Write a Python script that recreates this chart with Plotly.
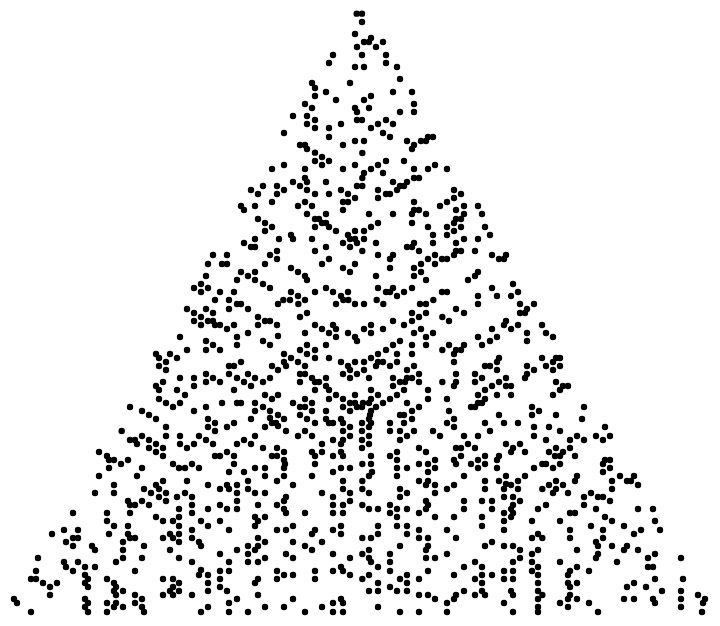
import plotly.graph_objects as go

# Values, region by region. Each pair is (across, down) in thirds of a unit
# from the region's corner, as read from the magnified crops.
apex = [(380,41),(396,41),(396,66),(375,102),(402,126),(417,126),(423,114),(459,126),(381,141),(438,141),(309,165),(396,165),(468,165),(297,189),(468,189),(375,201),(402,201),(501,201),(510,237),(246,249),(360,249),(255,264),(288,276),(489,276),(546,276),(255,288),(423,288),(318,300),(402,300),(225,312),(552,312),(246,324),(375,324),(417,324),(381,336),(510,336),(552,336),(189,348),(231,348),(255,360),(381,360),(396,360),(468,360),(231,372),(333,372),(444,372),(489,372),(255,384),(297,384),(423,384),(162,399),(459,399),(297,411),(480,411),(375,423),(402,423),(531,423),(573,423),(588,423),(594,411),(609,411),(210,435),(225,435),(339,435),(552,435),(231,447),(546,447)]
upper_left = [(405,8),(426,21),(405,33),(447,33),(426,45),(312,45),(276,57),(375,57),(489,57),(525,45),(339,96),(375,84),(381,96),(438,96),(249,108),(291,108),(360,108),(531,108),(213,120),(312,120),(381,120),(483,120),(234,132),(291,132),(405,132),(447,132),(504,132),(525,144),(276,156),(375,156),(489,156),(504,156),(183,168),(225,168),(354,168),(396,168),(192,180),(489,180),(381,192),(438,192),(234,207),(405,207),(417,207),(255,219),(426,219),(438,219),(276,231),(405,231),(447,231),(255,243),(468,243),(525,243),(333,255),(504,255),(225,267),(297,267),(339,267),(396,267),(510,267),(525,267),(192,279),(489,279),(531,279),(213,291),(225,291),(438,291),(510,291),(291,303),(405,303),(99,315),(141,315),(270,315),(291,327),(447,327),(84,342),(126,342),(141,342),(255,342),(426,342),(525,342),(333,354),(489,354),(183,366),(225,366),(354,366),(510,366),(78,378),(204,378),(375,378),(171,390),(225,390),(381,390),(63,402),(249,402),(42,414),(84,414),(270,414),(438,414),(63,426),(120,426),(162,426),(333,426),(405,426),(459,426),(504,426),(354,438),(483,438)]
upper_right = [(7,9),(78,33),(132,33),(54,45),(33,57),(162,57),(204,57),(225,45),(261,57),(12,69),(69,69),(7,84),(162,84),(177,84),(99,96),(141,96),(7,108),(120,108),(132,108),(111,120),(54,120),(282,120),(78,132),(90,132),(303,132),(54,144),(282,144),(162,156),(261,156),(240,168),(312,168),(354,168),(162,180),(177,180),(288,180),(27,192),(99,192),(156,192),(198,192),(312,192),(366,192),(288,207),(303,207),(54,219),(156,219),(282,219),(33,231),(204,231),(261,231),(303,231),(375,231),(12,243),(282,243),(219,255),(261,255),(390,255),(12,267),(312,267),(354,267),(48,279),(162,279),(219,279),(288,279),(141,291),(156,291),(7,303),(177,303),(288,303),(303,303),(345,303),(282,315),(54,315),(99,315),(225,315),(396,315),(438,315),(90,327),(204,327),(246,327),(261,327),(417,327),(432,327),(183,342),(225,342),(90,354),(162,354),(183,366),(354,366),(48,378),(162,378),(345,378),(198,390),(324,390),(459,402),(54,414),(99,414),(156,414),(396,414),(78,426),(90,426),(132,426),(246,426),(261,426),(474,426),(111,438),(354,438),(411,438),(453,438)]
middle_left = [(285,0),(327,0),(351,12),(363,12),(474,12),(201,27),(258,27),(327,27),(384,27),(222,39),(279,39),(243,51),(414,51),(222,63),(264,63),(279,63),(435,63),(450,63),(243,75),(285,75),(300,75),(342,75),(414,75),(471,75),(321,87),(384,99),(180,111),(351,111),(474,108),(258,123),(429,123),(279,135),(351,135),(450,135),(201,150),(258,150),(300,150),(108,162),(150,162),(117,174),(171,174),(138,186),(363,186),(117,198),(327,198),(342,198),(456,198),(138,210),(474,210),(258,222),(327,222),(384,222),(180,234),(222,234),(279,234),(351,234),(405,234),(450,234),(129,246),(258,246),(300,246),(372,246),(429,246),(108,258),(222,258),(393,258),(117,270),(171,270),(342,270),(195,285),(435,285),(474,285),(117,297),(456,297),(138,309),(180,309),(306,309),(351,309),(363,309),(405,309),(159,321),(30,321),(258,321),(429,321),(222,333),(66,333),(405,333),(450,333),(87,345),(474,345),(108,357),(264,357),(393,357),(450,354),(285,369),(342,369),(456,369),(468,369),(138,381),(264,381),(321,381),(435,381),(474,378),(285,393),(5,393),(138,408),(66,408),(180,408),(237,408),(405,408),(30,420),(45,420),(87,420),(258,420),(372,420),(51,432),(108,432),(180,432),(222,432),(279,432),(351,432),(393,432),(87,444),(129,444),(201,444),(429,444),(471,444)]
middle_centre = [(10,0),(30,0),(75,0),(190,0),(205,0),(290,0),(460,0),(55,12),(168,12),(225,12),(252,12),(310,12),(420,12),(438,12),(396,39),(81,39),(438,39),(60,51),(417,51),(339,63),(396,63),(105,75),(159,75),(273,75),(372,75),(126,87),(168,87),(252,87),(309,87),(423,87),(75,99),(147,99),(204,99),(273,99),(402,99),(459,99),(168,111),(225,111),(231,123),(360,123),(438,111),(339,135),(81,135),(138,135),(396,135),(438,135),(60,150),(105,150),(318,150),(12,162),(81,162),(294,162),(351,162),(396,162),(33,174),(105,174),(147,174),(273,174),(183,186),(225,186),(252,186),(12,186),(54,186),(294,186),(309,186),(351,186),(18,198),(75,198),(204,198),(288,198),(330,198),(402,198),(210,210),(252,210),(381,210),(60,222),(75,222),(189,222),(231,222),(417,222),(96,234),(138,234),(210,234),(267,234),(339,234),(381,234),(396,234),(60,246),(105,246),(117,246),(360,246),(375,246),(417,246),(138,258),(339,258),(105,270),(147,270),(273,270),(372,270),(444,270),(168,285),(225,285),(294,285),(351,285),(75,297),(147,297),(189,297),(273,297),(330,297),(444,297),(39,309),(96,309),(210,309),(225,309),(249,309),(267,309),(309,309),(381,309),(60,321),(75,321),(189,321),(231,321),(246,321),(288,321),(417,321),(96,333),(138,333),(210,333),(273,333),(396,333),(60,345),(270,345),(360,345),(372,345),(12,357),(81,357),(138,357),(183,357),(267,357),(396,357),(147,369),(159,369),(189,369),(105,369),(246,369),(273,369),(330,369),(372,369),(210,381),(267,381),(18,393),(75,393),(189,393),(246,393),(330,393),(360,393),(402,393),(459,393),(54,408),(96,408),(210,408),(267,408),(381,408),(159,420),(189,420),(360,420),(126,432),(183,432),(267,432),(246,420),(246,444),(417,444)]
middle_right = [(114,12),(240,12),(282,12),(48,27),(261,27),(72,39),(240,39),(255,39),(7,51),(27,63),(198,63),(192,75),(234,75),(306,75),(156,87),(213,87),(261,99),(318,99),(114,111),(171,111),(339,111),(150,123),(261,123),(27,135),(72,135),(126,135),(7,150),(48,150),(63,150),(42,162),(177,174),(306,174),(348,174),(360,174),(171,186),(42,186),(339,186),(135,198),(150,198),(261,198),(318,198),(360,198),(171,210),(282,210),(339,210),(48,222),(105,222),(261,222),(126,234),(255,234),(198,234),(7,246),(48,246),(105,246),(177,246),(348,246),(42,258),(156,258),(198,258),(213,258),(369,258),(384,258),(135,270),(360,270),(114,285),(171,285),(213,285),(339,285),(21,297),(135,297),(114,309),(126,309),(93,321),(105,321),(276,321),(432,321),(27,333),(297,333),(177,345),(276,345),(348,345),(42,357),(426,357),(21,369),(135,369),(192,369),(234,369),(42,381),(282,381),(327,381),(495,381),(150,393),(360,393),(0,408),(72,408),(114,408),(282,408),(411,408),(468,408),(510,408),(318,420),(390,420),(432,420),(489,420),(84,432),(198,432),(240,432),(48,444),(63,444),(105,444),(219,444),(348,444),(390,444)]
base_a = [(297,6),(468,6),(321,18),(489,18),(327,30),(342,30),(384,30),(363,42),(519,42),(327,54),(426,54),(537,54),(297,78),(411,78),(489,93),(342,105),(468,105),(432,117),(477,117),(285,129),(342,129),(453,129),(498,129),(477,141),(531,141),(384,153),(426,153),(498,153),(390,165),(405,165),(447,165),(537,177),(219,189),(321,189),(390,189),(468,201),(537,201),(321,213),(489,213),(519,213),(342,228),(384,228),(537,228),(192,240),(234,240),(156,252),(327,252),(384,252),(510,252),(537,252),(219,264),(234,264),(390,264),(405,264),(489,264),(519,264),(198,276),(369,276),(537,276),(219,288),(276,288),(432,288),(285,300),(369,300),(510,300),(114,324),(369,324),(426,324),(537,324),(192,336),(234,336),(348,336),(198,351),(255,351),(285,351),(108,363),(219,363),(405,363),(255,375),(93,387),(108,387),(264,387),(321,387),(489,387),(519,387),(129,399),(171,399),(255,399),(342,399),(537,399),(150,411),(264,411),(348,411),(519,411),(342,423),(369,423),(510,423),(537,423),(150,435),(348,435),(405,435),(489,435),(519,435),(42,447),(255,447),(426,447),(51,459),(264,459),(321,459),(348,459),(405,459),(255,471),(342,471),(369,471),(426,471),(93,486),(264,486),(321,486),(432,486)]
base_b = [(141,6),(105,18),(120,18),(162,18),(276,18),(291,18),(312,6),(312,30),(396,6),(405,18),(426,6),(459,18),(483,6),(489,18),(36,42),(162,42),(315,42),(405,42),(15,54),(57,54),(225,54),(255,54),(312,54),(483,54),(510,54),(147,66),(192,66),(459,66),(255,78),(312,78),(396,78),(21,93),(204,93),(291,93),(489,93),(84,105),(141,105),(171,105),(339,105),(120,117),(147,117),(204,117),(489,117),(15,129),(171,129),(225,129),(255,129),(426,129),(510,129),(36,141),(318,141),(459,141),(171,153),(312,153),(510,153),(36,165),(120,165),(234,165),(291,165),(459,165),(489,165),(84,177),(141,177),(171,177),(312,177),(36,189),(318,189),(375,189),(459,189),(489,189),(225,201),(255,201),(63,213),(120,213),(234,213),(84,228),(225,228),(339,228),(483,228),(36,240),(147,240),(291,240),(318,240),(405,240),(459,240),(396,252),(483,252),(234,264),(36,264),(255,276),(57,276),(339,276),(426,276),(204,288),(234,288),(63,288),(375,288),(171,300),(225,300),(396,300),(120,312),(204,312),(318,312),(459,312),(255,324),(339,324),(510,324),(36,336),(147,336),(204,336),(234,336),(63,360),(120,363),(147,363),(291,363),(405,363),(459,363),(483,351),(489,363),(57,375),(84,375),(312,375),(339,375),(510,375),(84,399),(120,387),(291,387),(405,387),(234,387),(225,399),(120,411),(84,423),(141,423),(36,435),(234,435),(171,447),(339,447),(483,447),(147,459),(459,459),(489,459),(84,471),(255,471),(312,471),(426,471),(63,486),(147,486),(204,486),(375,486),(459,486),(489,486)]
base_c = [(111,6),(198,6),(453,6),(495,6),(33,18),(90,18),(303,18),(375,18),(417,18),(111,30),(282,30),(225,30),(354,30),(411,30),(7,42),(33,42),(177,42),(204,42),(288,42),(333,42),(375,42),(111,54),(141,54),(225,54),(354,54),(411,54),(522,54),(204,66),(36,66),(27,78),(111,78),(312,78),(438,78),(495,78),(7,93),(177,93),(204,93),(375,93),(417,93),(474,93),(198,105),(225,105),(282,105),(438,102),(453,105),(7,117),(120,117),(261,117),(375,117),(432,117),(474,117),(27,129),(141,129),(225,129),(120,141),(432,141),(459,141),(198,153),(312,153),(366,153),(396,153),(480,153),(7,165),(90,165),(204,165),(459,165),(27,177),(54,177),(111,177),(141,177),(198,177),(312,177),(396,177),(453,177),(534,177),(90,189),(177,189),(432,189),(459,189),(111,201),(225,201),(282,201),(366,201),(453,201),(432,213),(516,213),(54,228),(111,228),(141,228),(366,228),(177,240),(261,240),(432,240),(54,252),(141,252),(534,252),(7,264),(33,264),(177,264),(204,264),(288,264),(516,264),(396,276),(120,288),(204,288),(375,288),(432,288),(459,288),(27,300),(198,300),(480,300),(534,300),(7,312),(90,312),(261,312),(516,312),(27,324),(198,324),(225,324),(480,324),(33,336),(90,336),(345,336),(459,336),(516,336),(54,351),(312,351),(366,351),(534,351),(90,363),(204,363),(432,363),(459,363),(516,363),(27,375),(141,375),(282,375),(366,375),(396,375),(534,375),(7,387),(120,387),(177,387),(345,387),(432,387),(459,387),(54,399),(141,399),(366,399),(534,399),(90,411),(27,423),(54,423),(111,423),(141,423),(312,423),(366,423),(453,423),(534,423),(177,435),(204,435),(288,435),(345,435),(375,435),(459,435),(225,447),(282,447),(534,447),(261,459),(432,459),(54,471),(534,471),(120,486),(177,486),(261,486),(459,486),(534,486)]
base_d = [(27,6),(69,6),(45,18),(60,18),(105,18),(195,30),(210,30),(189,42),(7,42),(18,42),(60,42),(39,54),(210,54),(189,66),(111,78),(240,78),(282,78),(105,93),(48,93),(216,93),(261,93),(273,93),(27,105),(69,105),(294,105),(48,117),(7,117),(216,117),(39,129),(84,129),(153,129),(132,141),(174,141),(189,141),(210,153),(18,165),(132,165),(168,177),(294,177),(339,177),(90,189),(105,189),(195,201),(60,213),(216,213),(345,213),(153,228),(252,228),(90,240),(189,240),(303,240),(360,240),(282,252),(7,264),(90,264),(189,264),(168,276),(174,288),(216,288),(261,288),(252,300),(111,300),(294,300),(174,312),(345,312),(168,324),(324,324),(423,324),(60,336),(231,336),(111,351),(324,351),(339,351),(90,363),(147,363),(84,375),(345,387),(429,387),(84,399),(111,399),(282,399),(90,411),(261,411),(318,411),(366,423),(423,423),(90,435),(7,435),(474,435),(84,447),(111,447),(252,447),(282,447),(339,447),(423,447),(495,447),(60,459),(147,459),(345,459),(489,459),(84,471),(423,471),(174,486),(486,486)]

regions = [
    (apex, 230, 0), (upper_left, 180, 150), (upper_right, 360, 150),
    (middle_left, 120, 300), (middle_centre, 280, 300), (middle_right, 440, 300),
    (base_a, 0, 450), (base_b, 180, 450), (base_c, 360, 450), (base_d, 540, 450),
]

x_values, y_values = [], []
for pairs, left, top in regions:
    for across, down in pairs:
        x_values.append(left + across / 3)
        y_values.append(top + down / 3)

fig = go.Figure(go.Scatter(
    x=x_values, y=y_values, mode="markers",
    marker=dict(color="black", size=6.4, line=dict(width=0)),
    hoverinfo="skip",
))
fig.update_layout(
    width=720, height=626,
    margin=dict(l=0, r=0, t=0, b=0),
    paper_bgcolor="white", plot_bgcolor="white",
    showlegend=False,
    xaxis=dict(range=[0, 720], visible=False, fixedrange=True),
    yaxis=dict(range=[626, 0], visible=False, fixedrange=True),
)
fig.write_html("out.html", config={"displayModeBar": False},
               post_script="document.body.style.margin='0';")
